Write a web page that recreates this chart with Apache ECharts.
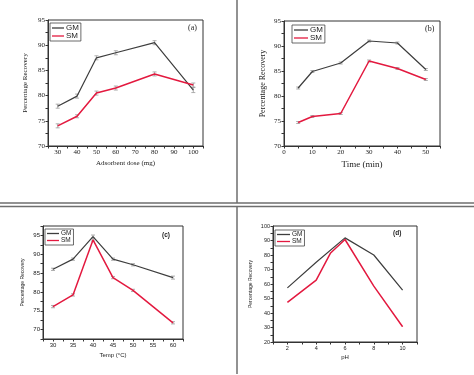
<!DOCTYPE html>
<html>
<head>
<meta charset="utf-8">
<script src="https://cdn.jsdelivr.net/npm/echarts@6/dist/echarts.min.js"></script>
<style>
  html, body { margin: 0; padding: 0; background: #fff; }
  #chart { width: 474px; height: 375px; }
</style>
</head>
<body>
<div id="chart"></div>
<script>
// (a) adsorbent dose
const doseX = [30, 40, 50, 60, 80, 100];
const doseGM = [77.9, 79.9, 87.5, 88.5, 90.5, 81.1];
const doseSM = [74.0, 75.9, 80.5, 81.5, 84.3, 82.1];
const doseErrGM = [0.4, 0.4, 0.4, 0.4, 0.4, 0.5];
const doseErrSM = [0.4, 0.3, 0.4, 0.4, 0.4, 0.4];

// (b) time
const timeX = [5, 10, 20, 30, 40, 50];
const timeGM = [81.6, 84.9, 86.6, 91.0, 90.6, 85.3];
const timeSM = [74.7, 75.9, 76.5, 87.0, 85.5, 83.3];
const timeErrGM = [0.2, 0.2, 0.2, 0.2, 0.2, 0.2];
const timeErrSM = [0.2, 0.2, 0.2, 0.2, 0.2, 0.2];

// (c) temperature
const tempX = [30, 35, 40, 45, 50, 60];
const tempGM = [86.0, 88.7, 94.7, 88.7, 87.2, 83.8];
const tempSM = [76.1, 79.2, 93.8, 83.8, 80.4, 71.8];
const tempErrGM = [0.3, 0.3, 0.4, 0.3, 0.3, 0.4];
const tempErrSM = [0.3, 0.3, 0.3, 0.3, 0.3, 0.3];

// (d) pH
const phGMx = [2, 4, 6, 8, 10];
const phGM = [57.3, 75.0, 91.8, 80.0, 55.7];
const phSMx = [2, 4, 5, 6, 8, 10];
const phSM = [47.3, 62.7, 81.4, 90.7, 58.5, 30.5];

const GM_COLOR = '#3d3d3d';
const SM_COLOR = '#e3193f';

const grid = [], xAxis = [], yAxis = [], series = [], legend = [];

function pairs(xs, ys, errs) {
    return xs.map((x, i) => errs ? [x, ys[i], errs[i]] : [x, ys[i]]);
}

function errorSeries(idx, data) {
    return {
        type: 'custom',
        xAxisIndex: idx,
        yAxisIndex: idx,
        z: 1,
        silent: true,
        encode: { x: 0, y: 1 },
        data: data,
        renderItem: function (params, api) {
            const x = api.value(0), y = api.value(1), e = api.value(2);
            const lo = api.coord([x, y - e]);
            const hi = api.coord([x, y + e]);
            const w = 2;
            const style = { stroke: '#9a9a9a', lineWidth: 0.8 };
            return {
                type: 'group',
                children: [
                    { type: 'line', shape: { x1: lo[0], y1: lo[1], x2: hi[0], y2: hi[1] }, style },
                    { type: 'line', shape: { x1: lo[0] - w, y1: lo[1], x2: lo[0] + w, y2: lo[1] }, style },
                    { type: 'line', shape: { x1: hi[0] - w, y1: hi[1], x2: hi[0] + w, y2: hi[1] }, style }
                ]
            };
        }
    };
}

function addPanel(p) {
    const idx = grid.length;
    grid.push({
        left: p.box[0], top: p.box[1], width: p.box[2], height: p.box[3],
        show: true, borderColor: '#333', borderWidth: 1, backgroundColor: 'transparent'
    });
    const tickLabel = {
        fontFamily: p.font, fontSize: p.tickSize, color: '#222', margin: 3
    };
    xAxis.push({
        gridIndex: idx, type: 'value', min: p.xr[0], max: p.xr[1], interval: p.xr[2],
        name: p.xName, nameLocation: 'middle', nameGap: p.xGap,
        nameTextStyle: { fontFamily: p.font, fontSize: p.nameSize, color: '#222' },
        axisLine: { show: true, onZero: false, lineStyle: { color: '#333', width: 1 } },
        axisTick: { show: true, length: 2.5, lineStyle: { color: '#333' } },
        splitLine: { show: false },
        axisLabel: Object.assign({}, tickLabel, {
            formatter: v => (p.xShow(v) ? String(v) : '')
        })
    });
    yAxis.push({
        gridIndex: idx, type: 'value', min: p.yr[0], max: p.yr[1], interval: p.yr[2],
        name: 'Percentage Recovery', nameLocation: 'middle', nameGap: p.yGap,
        nameTextStyle: { fontFamily: p.font, fontSize: p.yNameSize, color: '#222' },
        axisLine: { show: true, onZero: false, lineStyle: { color: '#333', width: 1 } },
        axisTick: { show: true, length: 2.5, lineStyle: { color: '#333' } },
        splitLine: { show: false },
        axisLabel: Object.assign({}, tickLabel, {
            formatter: v => (p.yShow(v) ? String(v) : '')
        })
    });
    [['GM', p.gm, GM_COLOR, p.gmWidth], ['SM', p.sm, SM_COLOR, p.smWidth]].forEach(s => {
        series.push({
            name: s[0], type: 'line', xAxisIndex: idx, yAxisIndex: idx, z: 3,
            data: s[1], showSymbol: false, symbol: 'none',
            lineStyle: { color: s[2], width: s[3] }, itemStyle: { color: s[2] }
        });
    });
    if (p.errGM) series.push(errorSeries(idx, p.errGM));
    if (p.errSM) series.push(errorSeries(idx, p.errSM));
    legend.push({
        data: ['GM', 'SM'], orient: 'vertical',
        left: p.legend[0], top: p.legend[1],
        icon: 'rect', itemWidth: p.legend[2], itemHeight: 1.3, itemGap: p.legend[4],
        padding: [1, 2, 1, 2], borderColor: '#444', borderWidth: 0.8,
        selectedMode: false,
        textStyle: { fontFamily: 'Liberation Sans', fontSize: p.legend[3], color: '#222', padding: [0, 0, 0, -3] }
    });
}

const serif = 'Liberation Serif';
const sans = 'Liberation Sans';

addPanel({
    box: [48, 20, 155, 126], font: serif, tickSize: 7, nameSize: 7, yNameSize: 7,
    xr: [25, 105, 5], yr: [70, 95, 2.5],
    xShow: v => v % 10 === 0 && v >= 30 && v <= 100, yShow: v => v % 5 === 0,
    xName: 'Adsorbent dose (mg)', xGap: 14, yGap: 19,
    gm: pairs(doseX, doseGM), sm: pairs(doseX, doseSM),
    errGM: pairs(doseX, doseGM, doseErrGM), errSM: pairs(doseX, doseSM, doseErrSM),
    gmWidth: 1.2, smWidth: 1.5,
    legend: [50, 23, 12, 8, 0]
});
addPanel({
    box: [284, 21, 156, 125], font: serif, tickSize: 7, nameSize: 9, yNameSize: 8,
    xr: [0, 55, 5], yr: [70, 95, 2.5],
    xShow: v => v % 10 === 0, yShow: v => v % 5 === 0,
    xName: 'Time (min)', xGap: 14, yGap: 17,
    gm: pairs(timeX, timeGM), sm: pairs(timeX, timeSM),
    errGM: pairs(timeX, timeGM, timeErrGM), errSM: pairs(timeX, timeSM, timeErrSM),
    gmWidth: 1.2, smWidth: 1.5,
    legend: [292, 25, 14, 8, 0]
});
addPanel({
    box: [43, 226, 140, 113], font: sans, tickSize: 6, nameSize: 6, yNameSize: 5,
    xr: [27.5, 62.5, 2.5], yr: [67.5, 97.5, 2.5],
    xShow: v => Math.abs(v % 5) < 1e-6, yShow: v => Math.abs(v % 5) < 1e-6 && v >= 70 && v <= 95,
    xName: 'Temp (\u00b0C)', xGap: 13, yGap: 18,
    gm: pairs(tempX, tempGM), sm: pairs(tempX, tempSM),
    errGM: pairs(tempX, tempGM, tempErrGM), errSM: pairs(tempX, tempSM, tempErrSM),
    gmWidth: 1.2, smWidth: 1.5,
    legend: [45, 229, 12, 6.5, 0]
});
addPanel({
    box: [273, 226, 144, 116], font: sans, tickSize: 5.5, nameSize: 6, yNameSize: 5,
    xr: [1, 11, 1], yr: [20, 100, 5],
    xShow: v => v % 2 === 0, yShow: v => v % 10 === 0,
    xName: 'pH', xGap: 12, yGap: 20,
    gm: pairs(phGMx, phGM), sm: pairs(phSMx, phSM),
    gmWidth: 1.2, smWidth: 1.5,
    legend: [275, 230, 13, 6.5, 0]
});

const frame = { stroke: '#6e6e6e', lineWidth: 1.5 };
const graphic = [
    { type: 'line', shape: { x1: 237, y1: 0, x2: 237, y2: 203 }, style: frame },
    { type: 'line', shape: { x1: 0, y1: 203, x2: 474, y2: 203 }, style: frame },
    { type: 'line', shape: { x1: 0, y1: 206.5, x2: 474, y2: 206.5 }, style: frame },
    { type: 'line', shape: { x1: 237, y1: 206.5, x2: 237, y2: 374 }, style: frame },
    { type: 'text', left: 188, top: 24, style: { text: '(a)', font: '8px "Liberation Serif"', fill: '#222' } },
    { type: 'text', left: 425, top: 25, style: { text: '(b)', font: '8px "Liberation Serif"', fill: '#222' } },
    { type: 'text', left: 162, top: 232, style: { text: '(c)', font: 'bold 6.5px "Liberation Sans"', fill: '#222' } },
    { type: 'text', left: 393, top: 230, style: { text: '(d)', font: 'bold 6.5px "Liberation Sans"', fill: '#222' } }
];

const chart = echarts.init(document.getElementById('chart'), null, { renderer: 'canvas' });
chart.setOption({
    animation: false,
    backgroundColor: '#fff',
    grid, xAxis, yAxis, series, legend, graphic
});
</script>
</body>
</html>
